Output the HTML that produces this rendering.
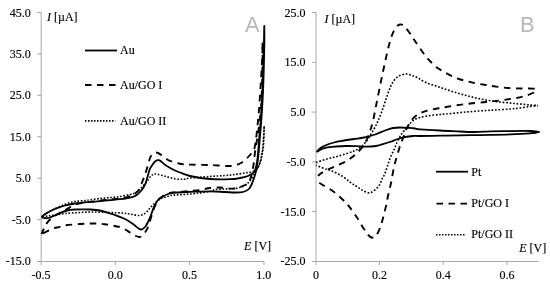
<!DOCTYPE html>
<html><head><meta charset="utf-8"><title>CV</title><style>
html,body{margin:0;padding:0;background:#fff;width:550px;height:285px;overflow:hidden}
svg{display:block}
text{font-family:"Liberation Serif","Times New Roman",serif;font-size:12px;fill:#000;stroke:#000;stroke-width:0.15}
.pl{font-family:"Liberation Sans",Arial,sans-serif;font-size:22px;fill:#b8b8b8;stroke:none}
.ax{stroke:#a8a8a8;stroke-width:1;fill:none}
.tk{stroke:#a6a6a6;stroke-width:1;fill:none}
.s{stroke:#000;stroke-width:1.8;fill:none;stroke-linejoin:round}
.d{stroke:#000;stroke-width:1.9;fill:none;stroke-dasharray:6.5 5.5}
.o{stroke:#000;stroke-width:1.6;fill:none;stroke-dasharray:1.6 1.7}
.or{stroke-dasharray:1.7 1.8}
.ol{stroke:#000;stroke-width:1.6;fill:none;stroke-dasharray:1.5 1.5}
</style></head><body>
<svg width="550" height="285" viewBox="0 0 550 285">
<rect width="550" height="285" fill="#fff"/>
<path class="ax" d="M41.2 12.5 V265 M37.5 261.5 H264.3"/>
<path class="tk" d="M37.3 12.50 H41.2"/>
<path class="tk" d="M37.3 53.92 H41.2"/>
<path class="tk" d="M37.3 95.34 H41.2"/>
<path class="tk" d="M37.3 136.76 H41.2"/>
<path class="tk" d="M37.3 178.18 H41.2"/>
<path class="tk" d="M37.3 219.60 H41.2"/>
<path class="tk" d="M37.3 261.50 H41.2"/>
<path class="tk" d="M115.3 262 V265"/>
<path class="tk" d="M189.5 262 V265"/>
<path class="tk" d="M264.0 262 V265"/>
<path class="ax" d="M316 12.7 V265 M312.3 261.5 H538.6"/>
<path class="tk" d="M312.2 12.50 H316"/>
<path class="tk" d="M312.2 62.40 H316"/>
<path class="tk" d="M312.2 112.10 H316"/>
<path class="tk" d="M312.2 161.80 H316"/>
<path class="tk" d="M312.2 211.50 H316"/>
<path class="tk" d="M312.2 261.50 H316"/>
<path class="tk" d="M379.5 262 V265"/>
<path class="tk" d="M443.2 262 V265"/>
<path class="tk" d="M507.0 262 V265"/>
<text x="30.75" y="16.6" text-anchor="end">45.0</text>
<text x="30.75" y="58.0" text-anchor="end">35.0</text>
<text x="30.75" y="99.4" text-anchor="end">25.0</text>
<text x="30.75" y="140.8" text-anchor="end">15.0</text>
<text x="30.75" y="182.2" text-anchor="end">5.0</text>
<text x="30.75" y="223.7" text-anchor="end">-5.0</text>
<text x="30.75" y="265.1" text-anchor="end">-15.0</text>
<text x="305.6" y="16.7" text-anchor="end">25.0</text>
<text x="305.6" y="66.4" text-anchor="end">15.0</text>
<text x="305.6" y="116.1" text-anchor="end">5.0</text>
<text x="305.6" y="165.8" text-anchor="end">-5.0</text>
<text x="305.6" y="215.5" text-anchor="end">-15.0</text>
<text x="305.6" y="265.2" text-anchor="end">-25.0</text>
<text x="41.0" y="279" text-anchor="middle">-0.5</text>
<text x="115.3" y="279" text-anchor="middle">0.0</text>
<text x="189.5" y="279" text-anchor="middle">0.5</text>
<text x="263.7" y="279" text-anchor="middle">1.0</text>
<text x="316.0" y="279" text-anchor="middle">0</text>
<text x="379.6" y="279" text-anchor="middle">0.2</text>
<text x="443.2" y="279" text-anchor="middle">0.4</text>
<text x="507.0" y="279" text-anchor="middle">0.6</text>
<text x="47" y="21.1"><tspan font-style="italic">I</tspan> [µA]</text>
<text x="324.5" y="23.2"><tspan font-style="italic">I</tspan> [µA]</text>
<text x="244.1" y="249.8"><tspan font-style="italic">E</tspan> [V]</text>
<text x="519.2" y="252"><tspan font-style="italic">E</tspan> [V]</text>
<text class="pl" x="245" y="31.8">A</text>
<text class="pl" x="520" y="31.8">B</text>
<path class="s" d="M85 50.5 H117"/><text x="120" y="54">Au</text>
<path class="d" d="M85 85 H117"/><text x="120" y="89.2">Au/GO I</text>
<path class="ol" d="M85 120.9 H115.3"/><text x="120" y="124.6">Au/GO II</text>
<path class="s" d="M436 171.7 H468"/><text x="471.3" y="175.6">Pt</text>
<path class="d" d="M436.5 203.6 H468"/><text x="471.3" y="207.3">Pt/GO I</text>
<path class="ol" d="M436 234.8 H466"/><text x="471.3" y="238.4">Pt/GO II</text>
<path class="o" d="M41.5 216.8 C42.6 216.1 45.8 213.7 48.0 212.3 C50.2 210.9 52.2 209.8 55.0 208.5 C57.8 207.2 61.7 205.5 65.0 204.3 C68.3 203.1 71.7 202.1 75.0 201.5 C78.3 200.9 82.5 200.9 85.0 200.6 C87.5 200.3 87.5 200.2 90.0 199.8 C92.5 199.5 96.7 198.9 100.0 198.5 C103.3 198.1 106.7 197.9 110.0 197.6 C113.3 197.3 116.7 197.0 120.0 196.5 C123.3 196.0 127.5 195.1 130.0 194.5 C132.5 193.9 133.5 193.8 135.0 193.0 C136.5 192.2 137.7 191.2 139.0 190.0 C140.3 188.8 141.5 187.7 143.0 186.0 C144.5 184.3 146.7 181.7 148.0 180.0 C149.3 178.3 150.0 176.9 151.0 176.0 C152.0 175.1 153.0 174.6 154.0 174.3 C155.0 174.0 155.2 173.9 157.0 174.2 C158.8 174.5 162.0 175.4 165.0 176.2 C168.0 177.0 171.8 178.3 175.0 178.8 C178.2 179.3 181.5 179.3 184.0 179.2 C186.5 179.1 185.7 178.4 190.0 178.0 C194.3 177.6 204.2 176.9 210.0 176.5 C215.8 176.1 220.8 175.8 225.0 175.5 C229.2 175.2 231.7 174.9 235.0 174.5 C238.3 174.1 242.3 173.4 245.0 173.0 C247.7 172.6 249.3 172.4 251.0 172.0 C252.7 171.6 253.9 171.1 255.0 170.5 C256.1 169.9 256.8 169.4 257.5 168.3 C258.2 167.2 258.9 165.6 259.5 164.0 C260.1 162.4 260.4 160.7 260.8 159.0 C261.2 157.3 261.5 155.7 261.8 154.0 C262.1 152.3 262.3 151.3 262.6 149.0 C262.9 146.7 263.1 143.8 263.4 140.0 C263.7 136.2 264.1 128.3 264.2 126.0 C264.1 128.3 264.0 136.2 263.8 140.0 C263.6 143.8 263.4 146.7 263.1 149.0 C262.8 151.3 262.5 152.3 262.2 154.0 C261.9 155.7 261.6 157.3 261.2 159.0 C260.8 160.7 260.3 162.4 259.7 164.0 C259.1 165.6 258.1 167.0 257.3 168.5 C256.5 170.0 255.9 171.4 255.0 173.0 C254.1 174.6 253.2 176.3 252.0 178.0 C250.8 179.7 249.5 181.6 248.0 183.0 C246.5 184.4 245.2 185.6 243.0 186.5 C240.8 187.4 238.0 188.1 235.0 188.5 C232.0 188.9 228.3 188.8 225.0 189.0 C221.7 189.2 217.5 189.1 215.0 189.5 C212.5 189.9 214.2 190.8 210.0 191.5 C205.8 192.2 195.8 193.4 190.0 194.0 C184.2 194.6 178.3 194.8 175.0 195.0 C171.7 195.2 171.5 195.2 170.0 195.5 C168.5 195.8 167.3 196.6 166.0 197.0 C164.7 197.4 163.3 197.4 162.0 198.0 C160.7 198.6 159.3 199.5 158.0 200.5 C156.7 201.5 155.3 202.8 154.0 204.0 C152.7 205.2 151.3 206.6 150.0 208.0 C148.7 209.4 147.7 211.2 146.0 212.5 C144.3 213.8 142.7 215.2 140.0 215.5 C137.3 215.8 133.0 214.4 130.0 214.0 C127.0 213.6 125.3 213.2 122.0 213.0 C118.7 212.8 114.5 212.7 110.0 212.5 C105.5 212.3 100.0 212.0 95.0 212.0 C90.0 212.0 85.0 212.2 80.0 212.5 C75.0 212.8 69.2 213.1 65.0 213.5 C60.8 213.9 57.8 214.6 55.0 215.0 C52.2 215.4 50.2 215.7 48.0 216.0 C45.8 216.3 42.6 216.8 41.5 217.0"/>
<path class="d" style="stroke-dashoffset:0.77" d="M41.5 234.0 C41.9 233.1 43.2 230.1 44.0 228.5 C44.8 226.9 45.2 225.8 46.0 224.5 C46.8 223.2 47.8 221.8 49.0 220.5 C50.2 219.2 51.5 218.1 53.0 217.0 C54.5 215.9 56.5 214.9 58.0 214.0 C59.5 213.1 60.5 212.3 62.0 211.5 C63.5 210.7 64.8 210.1 67.0 209.0 C69.2 207.9 72.0 205.9 75.0 204.8 C78.0 203.7 81.7 203.0 85.0 202.4 C88.3 201.8 90.8 201.7 95.0 201.2 C99.2 200.7 105.8 199.9 110.0 199.5 C114.2 199.1 117.0 198.9 120.0 198.5 C123.0 198.1 126.0 197.4 128.0 196.8 C130.0 196.2 130.3 196.0 132.0 195.0 C133.7 194.0 136.2 193.5 138.0 191.0 C139.8 188.5 141.6 183.5 143.0 180.0 C144.4 176.5 145.3 173.7 146.5 170.0 C147.7 166.3 149.1 160.5 150.0 158.0 C150.9 155.5 151.2 155.9 152.0 155.0 C152.8 154.1 154.0 152.8 155.0 152.5 C156.0 152.2 156.8 152.5 158.0 153.0 C159.2 153.5 160.3 154.3 162.0 155.5 C163.7 156.7 166.3 159.0 168.0 160.0 C169.7 161.0 170.2 160.9 172.0 161.5 C173.8 162.1 176.8 163.0 179.0 163.5 C181.2 164.0 183.2 164.3 185.0 164.5 C186.8 164.7 185.8 164.5 190.0 164.6 C194.2 164.7 203.3 164.8 210.0 165.0 C216.7 165.2 225.0 166.2 230.0 166.0 C235.0 165.8 237.3 164.7 240.0 163.5 C242.7 162.3 244.3 160.4 246.0 159.0 C247.7 157.6 248.7 156.5 250.0 155.0 C251.3 153.5 252.9 153.3 254.0 150.0 C255.1 146.7 255.7 141.7 256.5 135.0 C257.3 128.3 258.2 119.2 259.0 110.0 C259.8 100.8 260.4 89.2 261.0 80.0 C261.6 70.8 262.1 61.5 262.3 55.0 C262.6 48.5 262.5 43.3 262.5 41.0"/>
<path class="d" style="stroke-dashoffset:10.20" d="M262.5 41.0 C262.5 44.2 262.8 50.2 262.6 60.0 C262.4 69.8 262.0 89.7 261.5 100.0 C261.0 110.3 260.2 115.3 259.5 122.0 C258.8 128.7 257.8 135.0 257.0 140.0 C256.2 145.0 255.6 147.8 255.0 152.0 C254.4 156.2 254.1 161.2 253.5 165.0 C252.9 168.8 252.2 172.2 251.5 175.0 C250.8 177.8 250.1 180.3 249.0 182.0 C247.9 183.7 247.3 183.9 245.0 185.0 C242.7 186.1 238.3 188.0 235.0 188.5 C231.7 189.0 227.5 188.2 225.0 188.0 C222.5 187.8 222.5 187.5 220.0 187.5 C217.5 187.5 213.3 187.6 210.0 188.0 C206.7 188.4 203.3 189.5 200.0 190.0 C196.7 190.5 193.3 190.7 190.0 191.0 C186.7 191.3 183.3 191.7 180.0 192.0 C176.7 192.3 172.8 192.3 170.0 193.0 C167.2 193.7 165.0 194.8 163.0 196.0 C161.0 197.2 159.4 198.7 158.0 200.5 C156.6 202.3 155.6 204.4 154.5 207.0 C153.4 209.6 152.6 212.7 151.5 216.0 C150.4 219.3 148.9 224.5 148.0 227.0 C147.1 229.5 146.8 229.7 146.0 231.0 C145.2 232.3 144.0 234.0 143.0 235.0 C142.0 236.0 141.2 236.8 140.0 237.0 C138.8 237.2 137.7 236.8 136.0 236.0 C134.3 235.2 131.7 233.5 130.0 232.5 C128.3 231.5 127.7 230.9 126.0 230.0 C124.3 229.1 121.5 227.6 120.0 227.0 C118.5 226.4 119.5 227.0 117.0 226.5 C114.5 226.0 109.0 224.7 105.0 224.2 C101.0 223.7 97.2 223.5 93.0 223.5 C88.8 223.5 84.5 223.7 80.0 224.0 C75.5 224.3 69.5 224.8 66.0 225.3 C62.5 225.8 61.0 226.6 59.0 227.1 C57.0 227.6 55.8 227.7 54.0 228.3 C52.2 228.9 50.1 229.8 48.0 230.8 C45.9 231.8 42.6 233.7 41.5 234.3"/>
<path class="s" d="M41.5 217.0 C42.2 216.4 43.8 214.8 46.0 213.5 C48.2 212.2 51.8 210.3 55.0 209.0 C58.2 207.7 61.7 206.4 65.0 205.5 C68.3 204.6 71.7 204.0 75.0 203.5 C78.3 203.0 81.7 202.6 85.0 202.3 C88.3 202.0 90.8 201.9 95.0 201.6 C99.2 201.2 105.8 200.6 110.0 200.2 C114.2 199.8 116.7 199.6 120.0 199.2 C123.3 198.8 127.7 198.0 130.0 197.6 C132.3 197.2 132.8 197.0 134.0 196.5 C135.2 196.0 136.0 195.6 137.0 194.8 C138.0 194.1 139.1 193.0 140.0 192.0 C140.9 191.0 141.8 190.1 142.5 189.0 C143.2 187.9 143.9 186.8 144.5 185.5 C145.1 184.2 145.4 184.1 146.2 181.5 C147.0 178.9 148.5 172.8 149.5 170.0 C150.5 167.2 151.5 166.3 152.3 165.0 C153.2 163.7 153.8 162.8 154.6 162.0 C155.3 161.2 156.1 160.6 156.8 160.3 C157.5 160.0 158.0 160.1 158.6 160.2 C159.2 160.3 159.9 160.6 160.6 161.1 C161.3 161.6 161.8 162.1 163.0 163.1 C164.2 164.1 166.0 165.6 168.0 166.8 C170.0 168.0 173.0 169.6 175.0 170.5 C177.0 171.4 177.5 171.6 180.0 172.5 C182.5 173.4 185.0 174.9 190.0 176.0 C195.0 177.1 203.3 178.5 210.0 179.0 C216.7 179.5 225.0 179.4 230.0 179.2 C235.0 179.0 237.0 178.5 240.0 178.0 C243.0 177.5 245.8 176.8 248.0 176.0 C250.2 175.2 251.8 174.2 253.0 173.0 C254.2 171.8 254.8 171.0 255.5 169.0 C256.2 167.0 256.7 164.2 257.2 161.0 C257.7 157.8 257.9 154.0 258.3 150.0 C258.7 146.0 258.9 141.7 259.3 137.0 C259.7 132.3 260.1 129.2 260.6 122.0 C261.1 114.8 261.8 104.3 262.3 94.0 C262.8 83.7 263.2 69.0 263.5 60.0 C263.8 51.0 263.9 45.7 264.0 40.0 C264.1 34.3 264.2 28.2 264.3 25.8 C264.3 28.2 264.4 34.3 264.4 40.0 C264.3 45.7 264.2 51.0 264.0 60.0 C263.8 69.0 263.4 83.7 262.9 94.0 C262.4 104.3 261.7 114.8 261.2 122.0 C260.7 129.2 260.3 132.3 259.9 137.0 C259.5 141.7 259.3 145.8 258.9 150.0 C258.5 154.2 258.1 158.3 257.6 162.0 C257.1 165.7 256.6 168.8 255.8 172.0 C255.0 175.2 254.1 178.2 253.0 181.0 C251.9 183.8 250.7 187.2 249.0 189.0 C247.3 190.8 245.3 191.4 243.0 192.0 C240.7 192.6 238.0 192.5 235.0 192.5 C232.0 192.5 229.2 192.2 225.0 192.0 C220.8 191.8 215.8 191.3 210.0 191.3 C204.2 191.3 195.8 191.7 190.0 191.9 C184.2 192.1 178.7 192.2 175.0 192.6 C171.3 192.9 170.0 193.3 168.0 194.0 C166.0 194.7 164.7 195.5 163.0 196.5 C161.3 197.5 159.5 198.2 158.0 200.0 C156.5 201.8 155.2 204.5 154.0 207.0 C152.8 209.5 152.0 212.5 151.0 215.0 C150.0 217.5 149.0 220.0 148.0 222.0 C147.0 224.0 146.1 225.8 145.0 227.0 C143.9 228.2 142.7 229.3 141.5 229.5 C140.3 229.7 139.4 228.9 138.0 228.0 C136.6 227.1 135.2 225.5 133.0 224.0 C130.8 222.5 128.0 220.5 125.0 219.0 C122.0 217.5 117.5 215.9 115.0 215.0 C112.5 214.1 112.5 214.2 110.0 213.5 C107.5 212.8 103.3 211.2 100.0 210.5 C96.7 209.8 94.2 209.7 90.0 209.5 C85.8 209.3 78.8 209.3 75.0 209.5 C71.2 209.7 69.5 209.9 67.0 210.5 C64.5 211.1 62.8 211.8 60.0 213.0 C57.2 214.2 52.5 216.7 50.0 217.5 C47.5 218.3 46.4 218.0 45.0 218.0 C43.6 218.0 42.1 217.6 41.5 217.5"/>
<path class="o or" d="M316.0 162.5 C317.8 161.9 323.5 160.0 327.0 159.0 C330.5 158.0 333.7 157.4 337.0 156.5 C340.3 155.6 344.2 154.4 347.0 153.5 C349.8 152.6 352.0 151.8 354.0 151.0 C356.0 150.2 357.3 149.7 359.0 148.5 C360.7 147.3 362.5 145.6 364.0 144.0 C365.5 142.4 366.3 141.5 368.0 139.0 C369.7 136.5 372.3 132.0 374.0 129.0 C375.7 126.0 376.7 124.0 378.0 121.0 C379.3 118.0 380.7 114.7 382.0 111.0 C383.3 107.3 384.7 102.8 386.0 99.0 C387.3 95.2 388.7 91.1 390.0 88.0 C391.3 84.9 392.5 82.5 394.0 80.5 C395.5 78.5 397.0 77.1 399.0 76.0 C401.0 74.9 403.8 74.1 406.0 74.0 C408.2 73.9 410.0 74.8 412.0 75.5 C414.0 76.2 415.7 76.8 418.0 78.0 C420.3 79.2 423.0 81.3 426.0 82.6 C429.0 83.9 432.7 84.9 436.0 86.0 C439.3 87.1 442.7 88.3 446.0 89.4 C449.3 90.5 452.7 91.6 456.0 92.6 C459.3 93.6 462.7 94.5 466.0 95.4 C469.3 96.3 472.7 97.2 476.0 98.0 C479.3 98.8 482.7 99.4 486.0 100.0 C489.3 100.6 492.0 101.1 496.0 101.6 C500.0 102.1 506.0 102.6 510.0 103.0 C514.0 103.4 516.7 103.7 520.0 104.0 C523.3 104.3 527.0 104.8 530.0 105.0 C533.0 105.2 536.7 105.4 538.0 105.5 C536.7 105.7 533.0 106.1 530.0 106.5 C527.0 106.9 523.3 107.6 520.0 108.0 C516.7 108.4 514.2 108.7 510.0 109.0 C505.8 109.3 499.0 109.8 495.0 110.0 C491.0 110.2 490.8 110.2 486.0 110.5 C481.2 110.8 472.7 111.4 466.0 112.0 C459.3 112.6 450.3 113.6 446.0 114.0 C441.7 114.4 442.7 114.2 440.0 114.5 C437.3 114.8 433.3 115.0 430.0 115.5 C426.7 116.0 422.7 116.8 420.0 117.5 C417.3 118.2 415.5 119.2 414.0 120.0 C412.5 120.8 412.0 121.5 411.0 122.5 C410.0 123.5 409.1 124.7 408.0 126.0 C406.9 127.3 405.6 129.2 404.5 130.5 C403.4 131.8 402.3 132.8 401.5 134.0 C400.7 135.2 400.3 135.9 399.5 137.5 C398.7 139.1 397.4 141.6 396.5 143.5 C395.6 145.4 395.2 146.9 394.3 149.0 C393.4 151.1 392.0 153.7 391.0 156.0 C390.0 158.3 389.2 160.8 388.5 163.0 C387.8 165.2 387.2 166.9 386.5 169.0 C385.8 171.1 384.8 173.8 384.0 175.5 C383.2 177.2 382.7 177.6 382.0 179.0 C381.3 180.4 380.8 182.5 380.0 184.0 C379.2 185.5 378.3 186.7 377.0 188.0 C375.7 189.3 373.5 191.2 372.0 192.0 C370.5 192.8 369.7 193.1 368.0 192.8 C366.3 192.5 364.0 191.1 362.0 190.0 C360.0 188.9 358.0 187.3 356.0 186.0 C354.0 184.7 352.3 183.7 350.0 182.0 C347.7 180.3 345.0 177.8 342.0 176.0 C339.0 174.2 334.5 172.1 332.0 171.0 C329.5 169.9 329.3 170.3 327.0 169.5 C324.7 168.7 319.8 166.8 318.0 166.0 C316.2 165.2 316.3 165.2 316.0 165.0"/>
<path class="d" style="stroke-dashoffset:7.56" d="M316.0 180.0 C316.5 179.2 317.5 176.5 319.0 175.0 C320.5 173.5 322.0 172.6 325.0 171.0 C328.0 169.4 333.0 167.4 337.0 165.5 C341.0 163.6 345.5 161.8 349.0 159.5 C352.5 157.2 355.3 154.8 358.0 152.0 C360.7 149.2 363.0 146.5 365.0 143.0 C367.0 139.5 368.7 134.7 370.0 131.0 C371.3 127.3 372.0 125.2 373.0 121.0 C374.0 116.8 374.8 111.8 376.0 106.0 C377.2 100.2 378.7 92.5 380.0 86.0 C381.3 79.5 382.7 73.2 384.0 67.0 C385.3 60.8 386.7 54.3 388.0 49.0 C389.3 43.7 390.6 38.9 392.0 35.2 C393.4 31.5 395.2 28.7 396.5 26.9 C397.8 25.1 398.9 24.8 400.0 24.5 C401.1 24.2 402.0 24.6 403.0 25.2 C404.0 25.8 404.8 26.9 406.0 28.3 C407.2 29.7 408.5 31.4 410.0 33.5 C411.5 35.6 412.7 37.6 415.0 41.0 C417.3 44.4 421.5 50.7 424.0 54.0 C426.5 57.3 428.0 58.8 430.0 61.0 C432.0 63.2 433.3 65.0 436.0 67.0 C438.7 69.0 442.7 71.2 446.0 73.0 C449.3 74.8 452.7 76.7 456.0 78.0 C459.3 79.3 462.7 80.1 466.0 81.0 C469.3 81.9 472.7 82.7 476.0 83.4 C479.3 84.1 482.7 84.5 486.0 85.0 C489.3 85.5 492.3 86.1 496.0 86.6 C499.7 87.1 503.8 87.7 508.0 88.0 C512.2 88.3 516.8 88.4 521.0 88.5 C525.2 88.6 530.2 88.4 533.0 88.6 C535.8 88.8 536.8 89.3 537.5 89.5"/>
<path class="d" style="stroke-dashoffset:7.10" d="M537.5 89.5 C537.1 89.9 537.1 90.9 535.0 92.0 C532.9 93.1 528.7 94.9 525.0 96.0 C521.3 97.1 517.2 97.8 513.0 98.5 C508.8 99.2 504.5 99.9 500.0 100.5 C495.5 101.1 491.7 101.4 486.0 102.0 C480.3 102.6 472.7 103.2 466.0 104.0 C459.3 104.8 451.0 106.2 446.0 107.0 C441.0 107.8 439.2 108.2 436.0 108.8 C432.8 109.4 429.2 110.0 426.5 110.8 C423.8 111.5 421.8 112.5 420.0 113.3 C418.2 114.1 417.4 114.7 416.0 115.8 C414.6 116.9 412.8 118.5 411.5 120.0 C410.2 121.5 409.5 123.2 408.5 125.0 C407.5 126.8 406.3 129.0 405.5 131.0 C404.7 133.0 404.2 135.2 403.5 137.0 C402.8 138.8 402.2 140.2 401.5 142.0 C400.8 143.8 400.2 145.2 399.5 147.5 C398.8 149.8 397.9 152.8 397.0 156.0 C396.1 159.2 395.0 162.5 394.0 167.0 C393.0 171.5 392.0 178.2 391.0 183.0 C390.0 187.8 388.8 192.5 388.0 196.0 C387.2 199.5 387.1 201.3 386.5 204.0 C385.9 206.7 385.2 209.3 384.5 212.0 C383.8 214.7 383.2 217.6 382.5 220.0 C381.8 222.4 381.2 224.4 380.5 226.5 C379.8 228.6 378.8 230.8 378.0 232.5 C377.2 234.2 376.3 235.5 375.5 236.4 C374.7 237.3 373.9 237.7 373.0 237.7 C372.1 237.7 371.0 237.3 370.0 236.6 C369.0 235.9 368.0 234.8 367.0 233.5 C366.0 232.2 365.2 230.8 364.0 229.0 C362.8 227.2 361.3 224.7 360.0 222.5 C358.7 220.3 357.5 218.2 356.0 216.0 C354.5 213.8 352.5 211.0 351.0 209.0 C349.5 207.0 348.7 205.8 347.0 204.0 C345.3 202.2 343.5 200.2 341.0 198.0 C338.5 195.8 335.2 192.8 332.0 190.5 C328.8 188.2 324.7 186.2 322.0 184.5 C319.3 182.8 317.0 180.8 316.0 180.0"/>
<path class="s" d="M316.5 152.0 C317.1 151.4 318.8 149.5 320.0 148.5 C321.2 147.5 321.7 147.0 324.0 146.0 C326.3 145.0 330.7 143.4 334.0 142.5 C337.3 141.6 340.7 141.1 344.0 140.5 C347.3 139.9 350.7 139.5 354.0 139.0 C357.3 138.5 360.5 138.2 364.0 137.5 C367.5 136.8 371.5 135.7 375.0 134.5 C378.5 133.3 382.0 131.6 385.0 130.5 C388.0 129.4 390.5 128.5 393.0 128.0 C395.5 127.5 397.7 127.5 400.0 127.5 C402.3 127.5 404.5 127.6 407.0 127.8 C409.5 128.0 412.8 128.2 415.0 128.5 C417.2 128.8 415.8 129.0 420.0 129.3 C424.2 129.6 433.3 130.1 440.0 130.5 C446.7 130.9 454.2 131.2 460.0 131.5 C465.8 131.8 470.0 132.0 475.0 132.0 C480.0 132.0 484.2 131.5 490.0 131.3 C495.8 131.2 503.3 131.2 510.0 131.1 C516.7 131.0 525.2 130.9 530.0 131.0 C534.8 131.1 537.5 131.8 539.0 131.9 C537.5 132.4 534.8 133.0 530.0 133.4 C525.2 133.8 516.7 134.2 510.0 134.4 C503.3 134.7 495.8 134.8 490.0 134.9 C484.2 135.0 480.0 135.0 475.0 135.1 C470.0 135.2 465.8 135.2 460.0 135.3 C454.2 135.4 446.7 135.6 440.0 135.7 C433.3 135.8 424.5 135.9 420.0 136.0 C415.5 136.1 415.5 135.8 413.0 136.0 C410.5 136.2 407.5 136.5 405.0 137.0 C402.5 137.5 400.5 138.2 398.0 139.0 C395.5 139.8 393.0 141.0 390.0 142.0 C387.0 143.0 382.3 144.3 380.0 145.0 C377.7 145.7 378.3 145.7 376.0 146.0 C373.7 146.3 369.3 146.6 366.0 146.6 C362.7 146.6 359.3 146.3 356.0 146.2 C352.7 146.1 349.3 145.9 346.0 146.0 C342.7 146.1 338.8 146.3 336.0 146.5 C333.2 146.7 331.3 146.8 329.0 147.2 C326.7 147.6 324.1 148.2 322.0 149.0 C319.9 149.8 317.4 151.5 316.5 152.0"/>
</svg>
</body></html>
